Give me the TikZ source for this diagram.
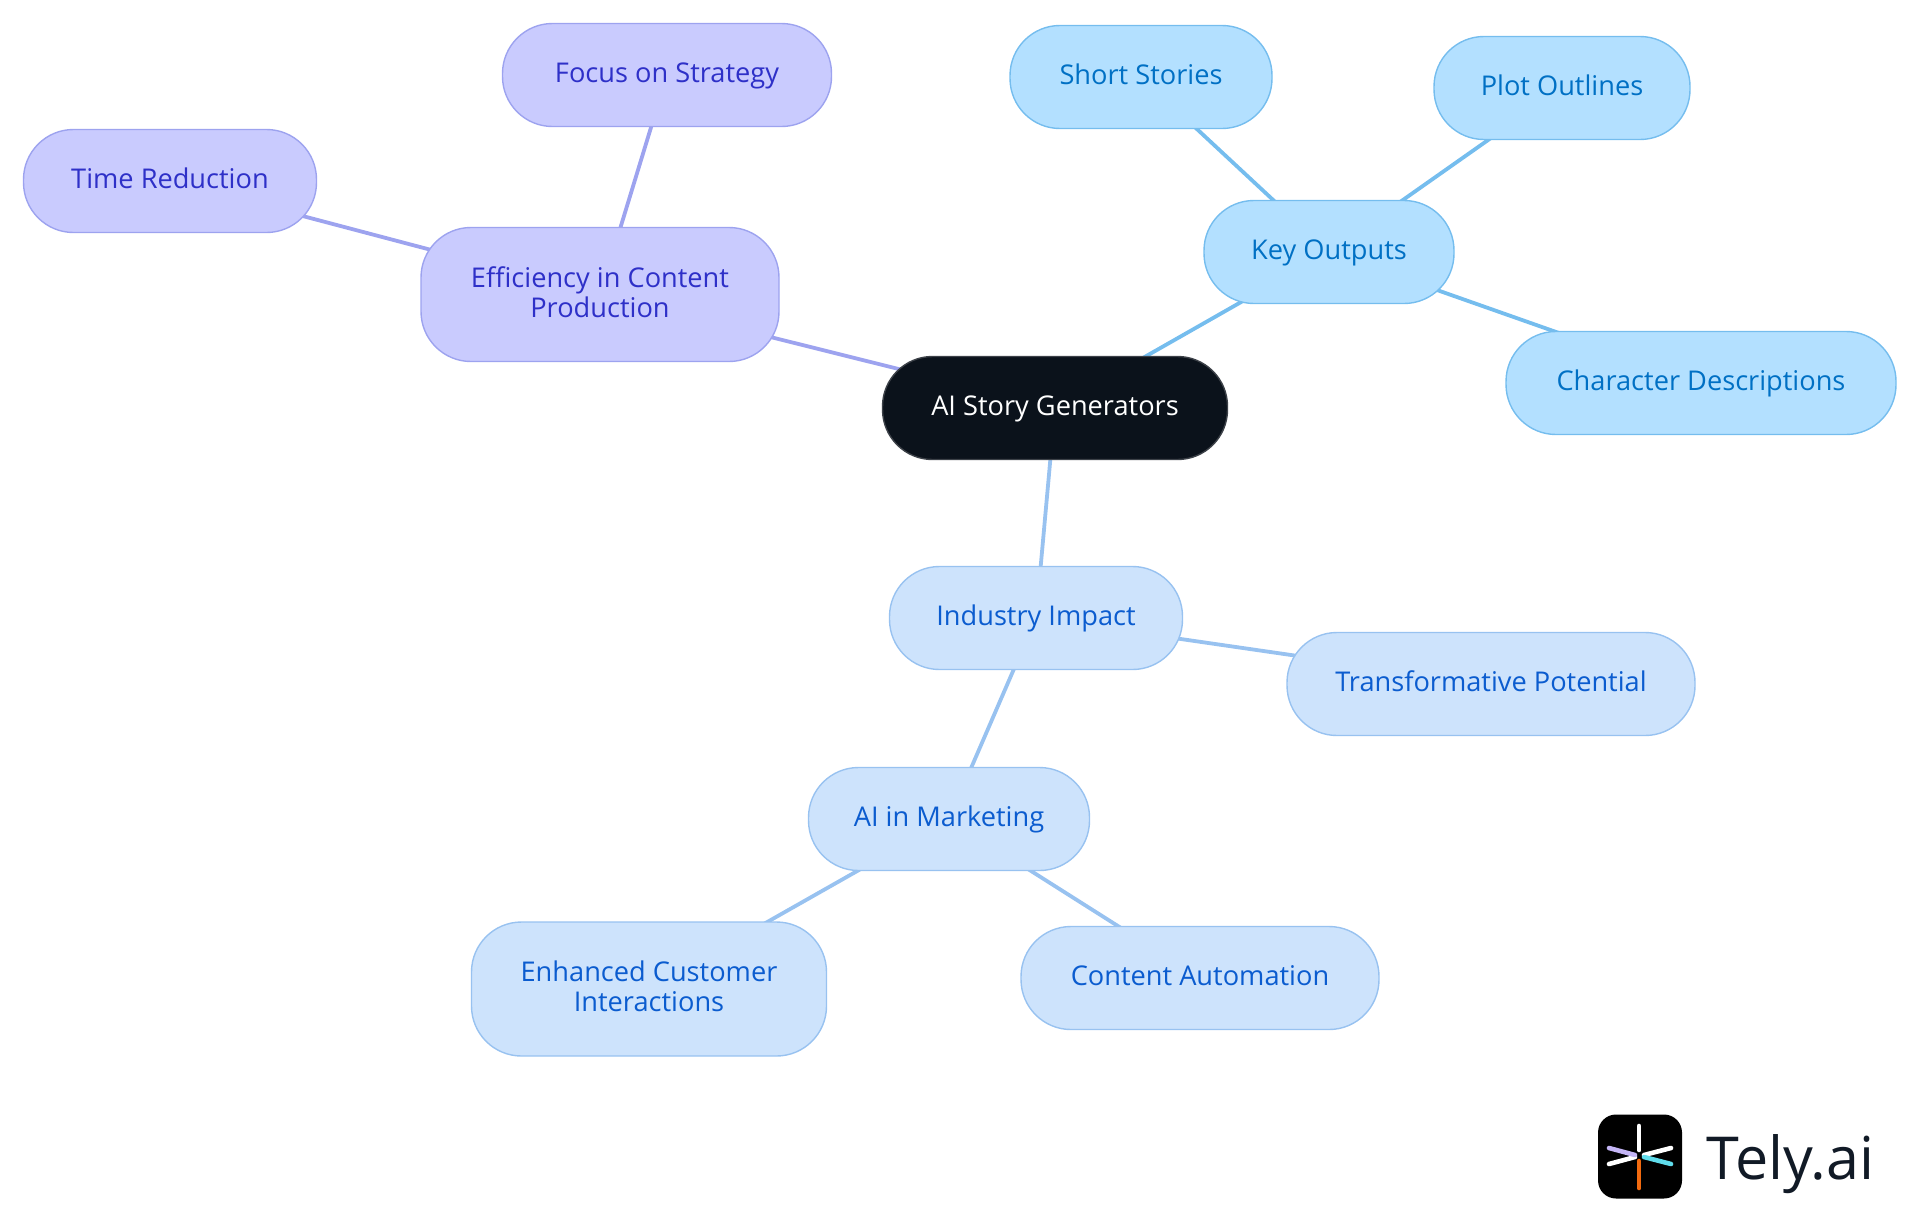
\documentclass[tikz,border=0pt]{standalone}
\usepackage{fontspec}
\setmainfont{Open Sans}
\usetikzlibrary{backgrounds}

\definecolor{rootFill}{HTML}{0B121B}
\definecolor{rootLine}{HTML}{3C4148}
\definecolor{violetFill}{HTML}{C9CBFE}
\definecolor{violetLine}{HTML}{9DA3EF}
\definecolor{violetText}{HTML}{2E30C8}
\definecolor{skyFill}{HTML}{B3E0FF}
\definecolor{skyLine}{HTML}{75BDEE}
\definecolor{skyText}{HTML}{0070C4}
\definecolor{paleFill}{HTML}{CDE3FC}
\definecolor{paleLine}{HTML}{98C2F0}
\definecolor{paleText}{HTML}{0B5CCF}
\definecolor{logoInk}{HTML}{111A26}
\definecolor{logoViolet}{HTML}{C4B5F5}
\definecolor{logoCyan}{HTML}{5FDCEB}
\definecolor{logoOrange}{HTML}{F26A0F}

\tikzset{
	pill/.style	= {shape = rectangle, rounded corners = 25pt, line width = 0.7pt,
			   minimum height = 51.5pt, inner sep = 0pt, align = center,
			   text height = 10.5pt, text depth = 3pt,
			   font = \fontsize{13.6}{15}\selectfont},
	twoLines/.style	= {minimum height = 67pt, text height = 25.5pt, text depth = 3pt},
	rootPill/.style	= {pill, fill = rootFill, draw = rootLine, text = white},
	violetPill/.style	= {pill, fill = violetFill, draw = violetLine, text = violetText},
	skyPill/.style	= {pill, fill = skyFill, draw = skyLine, text = skyText},
	palePill/.style	= {pill, fill = paleFill, draw = paleLine, text = paleText},
	link/.style	= {line width = 1.9pt},
	spoke/.style	= {line width = 2.3pt, line cap = round},
}

\begin{document}
\begin{tikzpicture}
[
	x	= 0.5pt,	% one unit is one pixel of the reference
	y	= -0.5pt,
]

\useasboundingbox (0,0) rectangle (1920,1215);

{
	% nodes declaration
	\node (nRoot) [rootPill, minimum width = 172.5pt] at (1055,408) {AI Story Generators};

	\node (nEfficiency) [violetPill, twoLines, minimum width = 179pt] at (600,294.5) {Efficiency in Content\\Production};
	\node (nFocus) [violetPill, minimum width = 164.5pt] at (667,75) {Focus on Strategy};
	\node (nTime) [violetPill, minimum width = 146.5pt] at (170,181) {Time Reduction};

	\node (nKey) [skyPill, minimum width = 125pt] at (1329,252) {Key Outputs};
	\node (nShort) [skyPill, minimum width = 131pt] at (1141,77) {Short Stories};
	\node (nPlot) [skyPill, minimum width = 128pt] at (1562,88) {Plot Outlines};
	\node (nCharacter) [skyPill, minimum width = 195pt] at (1701,383) {Character Descriptions};

	\node (nIndustry) [palePill, minimum width = 146.5pt] at (1036,618) {Industry Impact};
	\node (nTransform) [palePill, minimum width = 204pt] at (1491,684) {Transformative Potential};
	\node (nMarketing) [palePill, minimum width = 140.5pt] at (949,819) {AI in Marketing};
	\node (nEnhanced) [palePill, twoLines, minimum width = 177.5pt] at (649,989) {Enhanced Customer\\Interactions};
	\node (nContent) [palePill, minimum width = 179pt] at (1200,978) {Content Automation};

	% edges declaration
	\begin{scope}[on background layer]
		\draw [link, violetLine] (nRoot.center) -- (nEfficiency.center);
		\draw [link, violetLine] (nEfficiency.center) -- (nFocus.center);
		\draw [link, violetLine] (nEfficiency.center) -- (nTime.center);
		\draw [link, skyLine] (nRoot.center) -- (nKey.center);
		\draw [link, skyLine] (nKey.center) -- (nShort.center);
		\draw [link, skyLine] (nKey.center) -- (nPlot.center);
		\draw [link, skyLine] (nKey.center) -- (nCharacter.center);
		\draw [link, paleLine] (nRoot.center) -- (nIndustry.center);
		\draw [link, paleLine] (nIndustry.center) -- (nTransform.center);
		\draw [link, paleLine] (nIndustry.center) -- (nMarketing.center);
		\draw [link, paleLine] (nMarketing.center) -- (nEnhanced.center);
		\draw [link, paleLine] (nMarketing.center) -- (nContent.center);
	\end{scope}

	% logo
	\node (nLogoBox) [shape = rectangle, fill = black, rounded corners = 9pt, minimum size = 42pt, inner sep = 0pt] at (1640,1156.5) {};
	\draw [spoke, white] (1639,1150) -- (1639,1126);
	\draw [spoke, white] (1644,1155) -- (1671,1148);
	\draw [spoke, white] (1635,1157) -- (1609,1164);
	\draw [spoke, logoViolet] (1635,1155) -- (1609,1148);
	\draw [spoke, logoCyan] (1644,1157) -- (1671,1164);
	\draw [spoke, logoOrange] (1639,1161) -- (1639,1188);
	\node (nLogoText) [anchor = base west, inner sep = 0pt, text = logoInk, font = \fontsize{29.6}{30}\selectfont] at (1706,1179) {Tely.ai};
}

\end{tikzpicture}
\end{document}
